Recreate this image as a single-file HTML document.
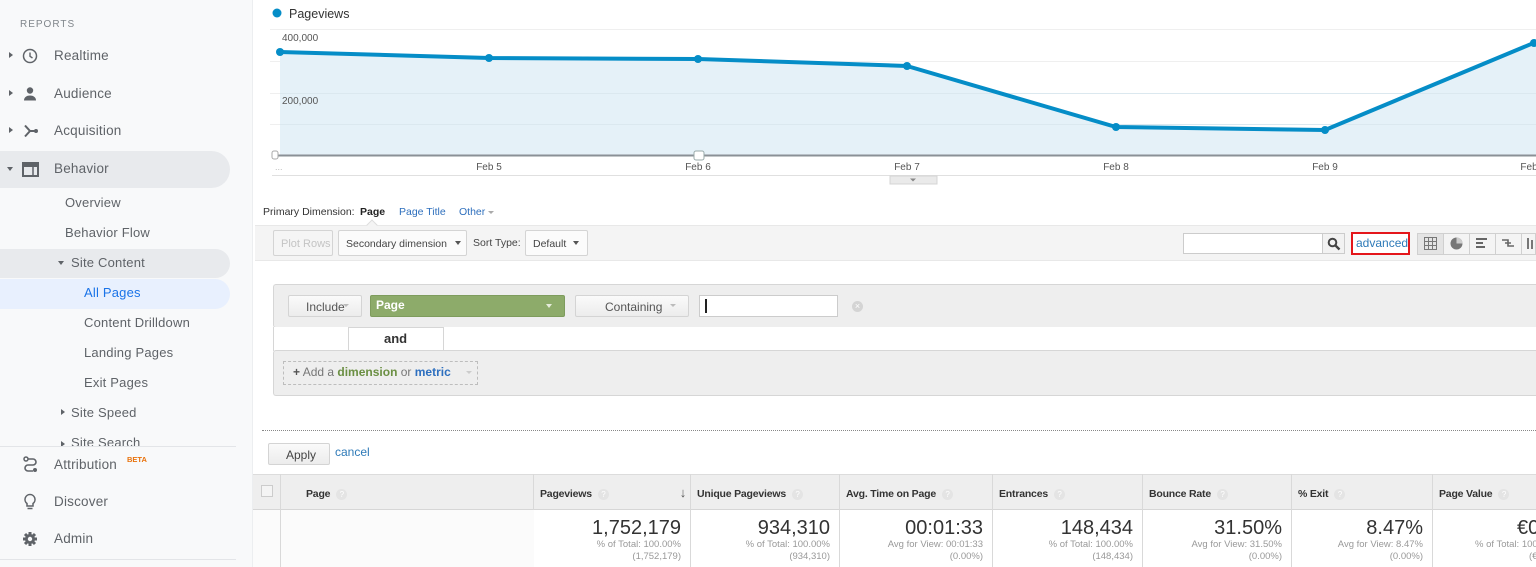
<!DOCTYPE html>
<html><head><meta charset="utf-8">
<style>
*{margin:0;padding:0;box-sizing:border-box}
body{width:1536px;height:567px;overflow:hidden;background:#fff;font-family:"Liberation Sans",Arial,sans-serif;position:relative}
.a{position:absolute;white-space:nowrap}
#side{position:absolute;left:0;top:0;width:253px;height:567px;background:#f8f9fa;border-right:1px solid #eceef0}
.si{position:absolute;font-size:13.5px;color:#5f6368;letter-spacing:.2px}
.sub{position:absolute;font-size:13px;color:#5f6368;letter-spacing:.2px}
.tri{position:absolute;width:0;height:0}
.btn{position:absolute;border:1px solid #d4d4d4;border-radius:2px;background:linear-gradient(#fafafa,#ececec);font-size:11px;color:#444;white-space:nowrap}
.th{position:absolute;top:474px;height:36px;border-right:1px solid #d9d9d9;font-size:10.5px;font-weight:bold;color:#333;padding:14px 0 0 6px;white-space:nowrap;letter-spacing:-.2px}
.q{display:inline-block;width:11px;height:11px;border-radius:50%;background:#e4e4e4;color:#fff;font-size:8px;text-align:center;line-height:11px;margin-left:6px;vertical-align:0px;font-weight:normal}
.td{position:absolute;top:510px;height:57px;border-right:1px solid #d9d9d9;text-align:right;padding-right:9px;color:#333;white-space:nowrap}
.big{font-size:20px;line-height:22px;margin-top:7px}
.sm{font-size:9.5px;color:#999;line-height:12px;white-space:nowrap}
</style></head><body>

<div id="side">
  <div class="a" style="left:20px;top:19px;font-size:10px;color:#80868b;letter-spacing:1px">REPORTS</div>

  <div class="tri" style="left:9px;top:52px;border-left:4px solid #5f6368;border-top:3.5px solid transparent;border-bottom:3.5px solid transparent"></div>
  <svg class="a" style="left:22px;top:48px" width="16" height="16"><circle cx="8" cy="8" r="6.5" fill="none" stroke="#5f6368" stroke-width="1.5"/><path d="M8 4.5V8.3L10.5 10" fill="none" stroke="#5f6368" stroke-width="1.4"/></svg>
  <div class="si" style="left:54px;top:48px">Realtime</div>

  <div class="tri" style="left:9px;top:90px;border-left:4px solid #5f6368;border-top:3.5px solid transparent;border-bottom:3.5px solid transparent"></div>
  <svg class="a" style="left:22px;top:86px" width="16" height="16"><circle cx="8" cy="4.5" r="3.2" fill="#5f6368"/><path d="M2 14.5c0-3.5 3-5 6-5s6 1.5 6 5z" fill="#5f6368"/></svg>
  <div class="si" style="left:54px;top:86px">Audience</div>

  <div class="tri" style="left:9px;top:127px;border-left:4px solid #5f6368;border-top:3.5px solid transparent;border-bottom:3.5px solid transparent"></div>
  <svg class="a" style="left:22px;top:123px" width="17" height="16"><path d="M3 2.5L8 8L3 13.5M8 8H15" fill="none" stroke="#5f6368" stroke-width="2"/><circle cx="14" cy="8" r="2" fill="#5f6368"/></svg>
  <div class="si" style="left:54px;top:123px">Acquisition</div>

  <div class="a" style="left:0;top:151px;width:230px;height:37px;background:#e8eaed;border-radius:0 19px 19px 0"></div>
  <div class="tri" style="left:7px;top:167px;border-top:4px solid #5f6368;border-left:3.5px solid transparent;border-right:3.5px solid transparent"></div>
  <svg class="a" style="left:22px;top:162px" width="17" height="15"><rect x="1" y="1" width="15" height="13" fill="none" stroke="#5f6368" stroke-width="2"/><rect x="1" y="1" width="15" height="4" fill="#5f6368"/><path d="M11 5V14" stroke="#5f6368" stroke-width="1.5"/></svg>
  <div class="si" style="left:54px;top:161px">Behavior</div>

  <div class="sub" style="left:65px;top:195px">Overview</div>
  <div class="sub" style="left:65px;top:225px">Behavior Flow</div>

  <div class="a" style="left:0;top:249px;width:230px;height:29px;background:#e8eaed;border-radius:0 15px 15px 0"></div>
  <div class="tri" style="left:58px;top:261px;border-top:4px solid #5f6368;border-left:3.5px solid transparent;border-right:3.5px solid transparent"></div>
  <div class="sub" style="left:71px;top:255px">Site Content</div>

  <div class="a" style="left:0;top:279px;width:230px;height:30px;background:#e8f0fe;border-radius:0 15px 15px 0"></div>
  <div class="sub" style="left:84px;top:285px;color:#1a73e8">All Pages</div>
  <div class="sub" style="left:84px;top:315px">Content Drilldown</div>
  <div class="sub" style="left:84px;top:345px">Landing Pages</div>
  <div class="sub" style="left:84px;top:375px">Exit Pages</div>

  <div class="tri" style="left:61px;top:409px;border-left:4px solid #5f6368;border-top:3.5px solid transparent;border-bottom:3.5px solid transparent"></div>
  <div class="sub" style="left:71px;top:405px">Site Speed</div>
  <div class="a" style="left:0;top:436px;width:253px;height:10px;overflow:hidden">
    <div class="tri" style="left:61px;top:5px;border-left:4px solid #5f6368;border-top:3.5px solid transparent;border-bottom:3.5px solid transparent"></div>
    <div class="sub" style="left:71px;top:-1px">Site Search</div>
  </div>
  <div class="a" style="left:0;top:446px;width:236px;height:1px;background:#e3e5e8"></div>

  <svg class="a" style="left:22px;top:456px" width="17" height="17"><circle cx="4" cy="3" r="2" fill="none" stroke="#5f6368" stroke-width="1.5"/><path d="M6 3h5a3 3 0 0 1 0 6H6a3 3 0 0 0 0 6h5" fill="none" stroke="#5f6368" stroke-width="1.6"/><circle cx="13" cy="14" r="2" fill="#5f6368"/></svg>
  <div class="si" style="left:54px;top:457px">Attribution</div>
  <div class="a" style="left:127px;top:455px;font-size:7.5px;color:#e8710a;font-weight:bold">BETA</div>

  <svg class="a" style="left:22px;top:493px" width="16" height="18"><path d="M8 1.5a5 5 0 0 0-3 9V13h6v-2.5a5 5 0 0 0-3-9z" fill="none" stroke="#5f6368" stroke-width="1.5"/><path d="M5.5 15.5h5" stroke="#5f6368" stroke-width="1.5"/></svg>
  <div class="si" style="left:54px;top:494px">Discover</div>

  <svg class="a" style="left:22px;top:531px" width="16" height="16"><circle cx="8" cy="8" r="5" fill="#5f6368"/><g stroke="#5f6368" stroke-width="3"><path d="M8 1v14M1 8h14M3 3l10 10M13 3L3 13"/></g><circle cx="8" cy="8" r="2.2" fill="#f8f9fa"/></svg>
  <div class="si" style="left:54px;top:531px">Admin</div>
  <div class="a" style="left:0;top:559px;width:236px;height:1px;background:#e3e5e8"></div>
</div>

<!-- chart -->
<svg class="a" style="left:0;top:0" width="1536" height="192">
  <circle cx="277" cy="13" r="4.5" fill="#058dc7"/>
  <text x="289" y="18" font-family="Liberation Sans" font-size="12.5" fill="#333">Pageviews</text>
  <g stroke="#efefef" stroke-width="1">
    <line x1="270" y1="29.5" x2="1536" y2="29.5"/>
    <line x1="270" y1="61.5" x2="1536" y2="61.5"/>
    <line x1="270" y1="93.5" x2="1536" y2="93.5"/>
    <line x1="270" y1="124.5" x2="1536" y2="124.5"/>
  </g>
  <polygon points="280,52 489,58 698,59 907,66 1116,127 1325,130 1536,42 1536,155 280,155" fill="#e5f1f8"/>
  <g stroke="#dbe8ef" stroke-width="1">
    <line x1="280" y1="93.5" x2="1536" y2="93.5"/>
    <line x1="280" y1="124.5" x2="1536" y2="124.5"/>
  </g>
  <text x="282" y="41" font-family="Liberation Sans" font-size="10" fill="#555">400,000</text>
  <text x="282" y="104" font-family="Liberation Sans" font-size="10" fill="#555">200,000</text>
  <line x1="275" y1="155.5" x2="1536" y2="155.5" stroke="#8a9096" stroke-width="2"/>
  <polyline points="280,52 489,58 698,59 907,66 1116,127 1325,130 1536,42" fill="none" stroke="#058dc7" stroke-width="4" stroke-linejoin="round"/>
  <g fill="#058dc7">
    <circle cx="280" cy="52" r="4"/><circle cx="489" cy="58" r="4"/><circle cx="698" cy="59" r="4"/>
    <circle cx="907" cy="66" r="4"/><circle cx="1116" cy="127" r="4"/><circle cx="1325" cy="130" r="4"/><circle cx="1534" cy="43" r="4"/>
  </g>
  <rect x="272" y="151" width="6" height="8" rx="2" fill="#fff" stroke="#aaa"/>
  <rect x="694" y="151" width="10" height="9" rx="2" fill="#fff" stroke="#9aa"/>
  <g font-family="Liberation Sans" font-size="10" fill="#555" text-anchor="middle">
    <text x="489" y="170">Feb 5</text><text x="698" y="170">Feb 6</text><text x="907" y="170">Feb 7</text>
    <text x="1116" y="170">Feb 8</text><text x="1325" y="170">Feb 9</text><text x="1536" y="170">Feb 10</text>
  </g>
  <text x="275" y="170" font-family="Liberation Sans" font-size="9" fill="#bbb">...</text>
  <line x1="272" y1="175.5" x2="1536" y2="175.5" stroke="#e0e0e0"/>
  <rect x="890" y="176" width="47" height="8" fill="#eaeaea" stroke="#d4d4d4"/>
  <path d="M910 178.5h6l-3 3z" fill="#888"/>
</svg>

<!-- primary dimension -->
<div class="a" style="left:263px;top:206px;font-size:10.5px;color:#333">Primary Dimension:</div>
<div class="a" style="left:360px;top:206px;font-size:10.5px;color:#222;font-weight:bold">Page</div>
<div class="a" style="left:399px;top:206px;font-size:10.5px;color:#2e6fbd">Page Title</div>
<div class="a" style="left:459px;top:206px;font-size:10.5px;color:#2e6fbd">Other</div>
<div class="tri" style="left:488px;top:211px;border-top:3px solid #aaa;border-left:3px solid transparent;border-right:3px solid transparent"></div>

<!-- toolbar -->
<div class="a" style="left:255px;top:225px;width:1281px;height:36px;background:#f4f4f4;border-top:1px solid #e8e8e8;border-bottom:1px solid #e8e8e8"></div>
<div class="a" style="left:368px;top:221px;width:8px;height:8px;background:#f4f4f4;border-left:1px solid #ddd;border-top:1px solid #ddd;transform:rotate(45deg)"></div>
<div class="btn" style="left:273px;top:230px;width:60px;height:26px;color:#c4c4c4;padding:7px 0 0 7px;background:#f5f5f5">Plot Rows</div>
<div class="btn" style="left:338px;top:230px;width:129px;height:26px;padding:7px 0 0 7px;background:#fbfbfb;font-size:10.5px">Secondary dimension</div>
<div class="tri" style="left:455px;top:241px;border-top:4px solid #555;border-left:3.5px solid transparent;border-right:3.5px solid transparent"></div>
<div class="a" style="left:473px;top:237px;font-size:10.5px;color:#444">Sort Type:</div>
<div class="btn" style="left:525px;top:230px;width:63px;height:26px;padding:7px 0 0 7px;background:#fbfbfb;font-size:10.5px">Default</div>
<div class="tri" style="left:573px;top:241px;border-top:4px solid #555;border-left:3.5px solid transparent;border-right:3.5px solid transparent"></div>

<div class="a" style="left:1183px;top:233px;width:140px;height:21px;background:#fff;border:1px solid #ccc"></div>
<div class="a" style="left:1322px;top:233px;width:23px;height:21px;background:#f2f2f2;border:1px solid #ccc"></div>
<svg class="a" style="left:1327px;top:237px" width="14" height="14"><circle cx="5.5" cy="5.5" r="3.8" fill="none" stroke="#444" stroke-width="2"/><path d="M8.3 8.3L12.5 12.5" stroke="#444" stroke-width="2.4"/></svg>
<div class="a" style="left:1351px;top:232px;width:59px;height:23px;border:2px solid #e4161b;background:#fff"></div>
<div class="a" style="left:1356px;top:236px;font-size:12px;color:#2e7ab8">advanced</div>
<div class="a" style="left:1417px;top:233px;width:119px;height:22px;border:1px solid #d0d0d0;background:#f4f4f4"></div>
<div class="a" style="left:1418px;top:234px;width:25px;height:20px;background:#e4e4e4"></div>
<div class="a" style="left:1443px;top:233px;width:1px;height:22px;background:#d0d0d0"></div>
<div class="a" style="left:1469px;top:233px;width:1px;height:22px;background:#d0d0d0"></div>
<div class="a" style="left:1495px;top:233px;width:1px;height:22px;background:#d0d0d0"></div>
<div class="a" style="left:1521px;top:233px;width:1px;height:22px;background:#d0d0d0"></div>
<svg class="a" style="left:1424px;top:237px" width="13" height="13"><g fill="none" stroke="#777" stroke-width="1"><rect x=".5" y=".5" width="12" height="12"/><path d="M4.5 .5v12M8.5 .5v12M.5 4.5h12M.5 8.5h12"/></g></svg>
<svg class="a" style="left:1450px;top:237px" width="13" height="13"><circle cx="6.5" cy="6.5" r="6" fill="#777"/><path d="M6.5 6.5V.5A6 6 0 0 1 12.5 6.5z" fill="#ccc"/></svg>
<svg class="a" style="left:1476px;top:237px" width="13" height="13"><g fill="#666"><rect x="0" y="1" width="11" height="2"/><rect x="0" y="5" width="7" height="2"/><rect x="0" y="9" width="9" height="2"/></g></svg>
<svg class="a" style="left:1501px;top:237px" width="14" height="13"><path d="M1 3h6v6h6M4 6h6" fill="none" stroke="#666" stroke-width="1.6"/></svg>
<svg class="a" style="left:1527px;top:237px" width="9" height="13"><g fill="#777"><rect x="0" y="1" width="2" height="11"/><rect x="4" y="3" width="2" height="9"/></g></svg>

<!-- filter section -->
<div class="a" style="left:273px;top:284px;width:1263px;height:44px;background:#eeeeee;border:1px solid #d6d6d6;border-right:none;border-radius:3px 0 0 3px"></div>
<div class="btn" style="left:288px;top:295px;width:74px;height:22px;font-size:12px;padding:4px 0 0 17px;color:#555">Include</div>
<div class="tri" style="left:343px;top:304px;border-top:3px solid #bbb;border-left:3px solid transparent;border-right:3px solid transparent"></div>
<div class="a" style="left:370px;top:295px;width:195px;height:22px;background:#8dab6a;border:1px solid #7e9c5d;border-radius:2px"></div>
<div class="a" style="left:376px;top:298px;font-size:12px;color:#fff;font-weight:bold">Page</div>
<div class="tri" style="left:546px;top:304px;border-top:4px solid #e6ecdb;border-left:3.5px solid transparent;border-right:3.5px solid transparent"></div>
<div class="btn" style="left:575px;top:295px;width:114px;height:22px;font-size:12px;padding:4px 0 0 29px;color:#555">Containing</div>
<div class="tri" style="left:670px;top:304px;border-top:3px solid #bbb;border-left:3px solid transparent;border-right:3px solid transparent"></div>
<div class="a" style="left:699px;top:295px;width:139px;height:22px;background:#fff;border:1px solid #ccc"></div>
<div class="a" style="left:705px;top:299px;width:1.5px;height:14px;background:#222"></div>
<div class="a" style="left:852px;top:301px;width:11px;height:11px;border-radius:50%;background:#d4d4d4;color:#fff;font-size:9px;line-height:11px;text-align:center">×</div>

<div class="a" style="left:273px;top:327px;width:76px;height:24px;border-left:1px solid #d6d6d6;border-right:1px solid #d6d6d6;background:#fff"></div>
<div class="a" style="left:384px;top:331px;font-size:13px;font-weight:bold;color:#333">and</div>
<div class="a" style="left:443px;top:327px;width:1093px;height:24px;border-left:1px solid #d6d6d6;background:#fff"></div>

<div class="a" style="left:273px;top:350px;width:1263px;height:46px;background:#eeeeee;border:1px solid #d6d6d6;border-right:none;border-radius:3px 0 0 3px"></div>
<div class="a" style="left:283px;top:361px;width:195px;height:24px;border:1px dashed #bdbdbd"></div>
<div class="a" style="left:293px;top:365px;font-size:12px;color:#777"><b style="color:#555">+</b> Add a <b style="color:#6b8f43">dimension</b> or <b style="color:#2d6fbf">metric</b></div>
<div class="tri" style="left:466px;top:371px;border-top:3px solid #ccc;border-left:3px solid transparent;border-right:3px solid transparent"></div>

<div class="a" style="left:262px;top:430px;width:1274px;height:0;border-top:1px dotted #888"></div>

<div class="btn" style="left:268px;top:443px;width:62px;height:22px;font-size:12px;padding:4px 0 0 17px;color:#444">Apply</div>
<div class="a" style="left:335px;top:445px;font-size:12px;color:#2e7ab8">cancel</div>

<!-- table -->
<div class="a" style="left:253px;top:474px;width:1283px;height:36px;background:#eeeeee;border-top:1px solid #dcdcdc;border-bottom:1px solid #d6d6d6"></div>
<div class="a" style="left:253px;top:510px;width:1283px;height:57px;background:#fbfbfb"></div>
<div class="a" style="left:280px;top:474px;width:1px;height:93px;background:#d9d9d9"></div>
<div class="a" style="left:261px;top:485px;width:12px;height:12px;border:1px solid #ccc;background:#f4f4f4"></div>

<div class="th" style="left:281px;width:253px;padding-left:25px">Page<span class="q">?</span></div>
<div class="th" style="left:534px;width:157px">Pageviews<span class="q">?</span><span style="position:absolute;right:4px;top:11px;font-size:13px;color:#555">&#8595;</span></div>
<div class="th" style="left:691px;width:149px">Unique Pageviews<span class="q">?</span></div>
<div class="th" style="left:840px;width:153px">Avg. Time on Page<span class="q">?</span></div>
<div class="th" style="left:993px;width:150px">Entrances<span class="q">?</span></div>
<div class="th" style="left:1143px;width:149px">Bounce Rate<span class="q">?</span></div>
<div class="th" style="left:1292px;width:141px">% Exit<span class="q">?</span></div>
<div class="th" style="left:1433px;width:103px;border-right:none">Page Value<span class="q">?</span></div>

<div class="td" style="left:534px;width:157px;background:#fff"><div class="big">1,752,179</div><div class="sm">% of Total: 100.00%</div><div class="sm">(1,752,179)</div></div>
<div class="td" style="left:691px;width:149px;background:#fff"><div class="big">934,310</div><div class="sm">% of Total: 100.00%</div><div class="sm">(934,310)</div></div>
<div class="td" style="left:840px;width:153px;background:#fff"><div class="big">00:01:33</div><div class="sm">Avg for View: 00:01:33</div><div class="sm">(0.00%)</div></div>
<div class="td" style="left:993px;width:150px;background:#fff"><div class="big">148,434</div><div class="sm">% of Total: 100.00%</div><div class="sm">(148,434)</div></div>
<div class="td" style="left:1143px;width:149px;background:#fff"><div class="big">31.50%</div><div class="sm">Avg for View: 31.50%</div><div class="sm">(0.00%)</div></div>
<div class="td" style="left:1292px;width:141px;background:#fff"><div class="big">8.47%</div><div class="sm">Avg for View: 8.47%</div><div class="sm">(0.00%)</div></div>
<div class="td" style="left:1433px;width:103px;background:#fff;border-right:none;overflow:hidden;text-align:left;padding:0">
  <div class="big" style="margin-left:84px">€0.00</div>
  <div class="sm" style="margin-left:42px">% of Total: 100.00%</div>
  <div class="sm" style="margin-left:96px">(€0.00)</div>
</div>

</body></html>
